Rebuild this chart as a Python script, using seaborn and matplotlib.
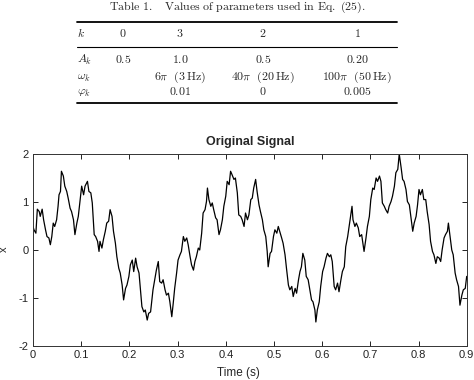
import numpy as np
import matplotlib
matplotlib.use("Agg")
import matplotlib.pyplot as plt
from matplotlib.lines import Line2D
import seaborn as sns

# signal
time = [0.000, 0.002, 0.006, 0.009, 0.013, 0.015, 0.019, 0.022, 0.026, 0.029, 0.033, 0.036, 0.039,
        0.042, 0.045, 0.049, 0.052, 0.054, 0.057, 0.059, 0.063, 0.066, 0.070, 0.073, 0.077, 0.080,
        0.084, 0.087, 0.091, 0.094, 0.098, 0.101, 0.105, 0.108, 0.113, 0.116, 0.120, 0.123, 0.127,
        0.130, 0.134, 0.137, 0.139, 0.143, 0.146, 0.150, 0.153, 0.157, 0.160, 0.164, 0.167, 0.171,
        0.174, 0.178, 0.181, 0.185, 0.188, 0.192, 0.195, 0.199, 0.202, 0.206, 0.209, 0.213, 0.216,
        0.220, 0.223, 0.226, 0.230, 0.233, 0.237, 0.240, 0.244,
        0.249, 0.256, 0.260, 0.263, 0.267, 0.270, 0.274, 0.277, 0.281, 0.284, 0.288, 0.291, 0.294,
        0.298, 0.301, 0.305, 0.308, 0.312, 0.315, 0.319, 0.322, 0.326, 0.329, 0.333, 0.336, 0.339,
        0.343, 0.346, 0.350, 0.353, 0.357, 0.360, 0.362, 0.365, 0.369, 0.372, 0.375, 0.379, 0.382,
        0.386, 0.389, 0.393, 0.396, 0.400, 0.403, 0.407, 0.410, 0.413, 0.417, 0.420, 0.424, 0.427,
        0.431, 0.434, 0.438, 0.441, 0.445, 0.448, 0.452, 0.455, 0.458, 0.462, 0.465, 0.469, 0.472,
        0.476, 0.479, 0.483, 0.486, 0.488, 0.492, 0.495, 0.499, 0.502, 0.506, 0.509, 0.512, 0.516,
        0.519, 0.523, 0.526, 0.530, 0.533, 0.537, 0.540, 0.544, 0.547, 0.551, 0.554, 0.557,
        0.560, 0.564, 0.567, 0.571, 0.574, 0.578, 0.581, 0.585, 0.587, 0.590, 0.594, 0.597, 0.601,
        0.604, 0.608, 0.611, 0.615, 0.618, 0.621, 0.625, 0.628, 0.632, 0.635, 0.639, 0.642, 0.646,
        0.649, 0.653, 0.656, 0.660, 0.662, 0.664, 0.668, 0.671, 0.675, 0.678, 0.682, 0.685, 0.687,
        0.691, 0.694, 0.698, 0.701, 0.705, 0.708, 0.712, 0.715, 0.719, 0.722, 0.725, 0.729, 0.732,
        0.736, 0.739, 0.743, 0.746, 0.750, 0.753, 0.757, 0.760, 0.764, 0.767, 0.770, 0.774, 0.777,
        0.781, 0.784, 0.788, 0.791, 0.795, 0.798, 0.801, 0.804, 0.808, 0.811, 0.815, 0.818, 0.822,
        0.825, 0.829, 0.832, 0.836, 0.839, 0.843, 0.846, 0.849, 0.853, 0.856, 0.860, 0.862, 0.865,
        0.869, 0.872, 0.876, 0.879, 0.883, 0.886, 0.890, 0.893, 0.897, 0.900]
signal = [0.48, 0.41, 0.34, 0.84, 0.79, 0.69, 0.84, 0.62, 0.41, 0.27, 0.24, 0.10, 0.27,
          0.55, 0.48, 0.62, 0.90, 1.14, 1.21, 1.63, 1.53, 1.32, 1.21, 1.07, 0.86, 0.79,
          0.62, 0.31, 0.55, 0.69, 1.04, 1.32, 1.14, 1.32, 1.42, 1.21, 1.18, 0.97, 0.31,
          0.27, 0.17, -0.04, 0.17, 0.03, 0.20, 0.38, 0.55, 0.59, 0.83, 0.69, 0.38, 0.13,
          -0.15, -0.39, -0.49, -0.74, -1.05, -0.81, -0.74, -0.56, -0.32, -0.22, -0.46, -0.18, -0.36,
          -0.49, -0.84, -1.19, -1.30, -1.26, -1.47, -1.33, -1.30,
          -0.84, -0.43, -0.25, -0.67, -0.70, -0.63, -0.84, -0.95, -0.91, -1.09, -1.40, -1.12, -0.81,
          -0.49, -0.22, -0.11, -0.04, 0.27, 0.17, 0.24, 0.10, -0.15, -0.32, -0.43, -0.25, -0.15,
          0.03, -0.01, 0.34, 0.76, 0.83, 1.00, 1.28, 1.04, 0.90, 0.97, 0.83, 0.66, 0.62,
          0.31, 0.41, 0.62, 0.90, 1.11, 1.42, 1.35, 1.63, 1.56, 1.46, 1.49, 1.18, 0.72,
          0.69, 0.62, 0.48, 0.76, 0.62, 0.72, 1.04, 1.07, 1.28, 1.46, 1.21, 0.93, 0.79,
          0.62, 0.41, 0.27, -0.04, -0.36, -0.08, -0.04, 0.27, 0.41, 0.34, 0.48, 0.38, 0.24,
          0.13, -0.11, -0.39, -0.74, -0.84, -0.77, -0.98, -0.81, -0.91, -0.63, -0.46, -0.36,
          -0.08, -0.22, -0.56, -0.63, -0.81, -1.05, -1.09, -1.26, -1.51, -1.26, -1.09, -0.77, -0.46,
          -0.36, -0.18, -0.08, -0.15, -0.11, -0.25, -0.77, -0.84, -0.70, -0.88, -0.63, -0.46, -0.36,
          0.06, 0.27, 0.48, 0.76, 0.90, 0.62, 0.48, 0.55, 0.45, 0.27, 0.31, 0.10, -0.04,
          0.24, 0.48, 0.69, 1.04, 1.28, 1.25, 1.49, 1.42, 1.53, 1.42, 0.97, 0.90, 0.83,
          0.76, 0.90, 1.00, 1.11, 1.32, 1.60, 1.67, 1.99, 1.70, 1.46, 1.42, 1.25, 1.00,
          0.93, 0.69, 0.38, 0.55, 0.69, 0.93, 1.25, 1.14, 1.25, 1.04, 1.04, 0.79, 0.52,
          0.17, -0.04, -0.11, -0.29, -0.15, -0.18, -0.25, -0.01, 0.24, 0.31, 0.38, 0.55, 0.31,
          -0.01, -0.11, -0.49, -0.63, -0.77, -1.16, -0.95, -0.84, -0.81, -0.56]

xticks = [0, 0.1, 0.2, 0.3, 0.4, 0.5, 0.6, 0.7, 0.8, 0.9]
xticklabels = ["0", "0.1", "0.2", "0.3", "0.4", "0.5", "0.6", "0.7", "0.8", "0.9"]
yticks = [-2, -1, 0, 1, 2]

# table contents
col_k = ["0", "3", "2", "1"]
row_A = ["0.5", "1.0", "0.5", "0.20"]
row_w = ["", r"6\pi\ \ (3\,\mathrm{Hz})", r"40\pi\ \ (20\,\mathrm{Hz})", r"100\pi\ \ (50\,\mathrm{Hz})"]
row_phi = ["", "0.01", "0", "0.005"]

sns.set_style("ticks", {"xtick.direction": "in", "ytick.direction": "in"})
plt.rcParams["font.family"] = ["Liberation Sans", "DejaVu Sans"]
plt.rcParams["mathtext.fontset"] = "cm"
plt.rcParams["axes.unicode_minus"] = False

W, H = 474, 380
fig = plt.figure(figsize=(W / 100, H / 100), dpi=100)
fig.patch.set_facecolor("white")

def fx(px):
    return px / W

def fy(py):
    return 1 - py / H

# ---- table ----
tsize = 8.6
fig.text(fx(237), fy(9.5), r"$\mathrm{Table\ 1.\quad Values\ of\ parameters\ used\ in\ Eq.\ (25).}$",
         ha="center", va="baseline", fontsize=tsize)
for py, lw in [(21.7, 1.3), (46.7, 0.8), (102.7, 1.3)]:
    fig.add_artist(Line2D([fx(77), fx(397)], [fy(py), fy(py)], transform=fig.transFigure,
                          color="black", lw=lw))

col_x = [123, 180, 263, 357]
rows = [(36.7, r"k", col_k), (63.0, r"A_k", row_A), (80.0, r"\omega_k", row_w), (94.6, r"\varphi_k", row_phi)]
for py, lab, vals in rows:
    fig.text(fx(77), fy(py), "$" + lab + "$", ha="left", va="baseline", fontsize=tsize)
    for cx, v in zip(col_x, vals):
        if v:
            fig.text(fx(cx), fy(py), "$" + v + "$", ha="center", va="baseline", fontsize=tsize)

# ---- plot ----
ax = fig.add_axes([fx(33), fy(345.5), fx(466.7) - fx(33), fy(153.5) - fy(345.5)])
sns.lineplot(x=time, y=signal, ax=ax, color="black", lw=0.9)
ax.set_xlim(0, 0.9)
ax.set_ylim(-2, 2)
ax.set_xticks(xticks)
ax.set_xticklabels(xticklabels)
ax.set_yticks(yticks)
ax.tick_params(axis="both", which="both", direction="in", length=3.5, width=0.7,
               top=True, right=True, labelsize=8, pad=3, colors="#222222")
for s in ax.spines.values():
    s.set_linewidth(0.7)
    s.set_color("#333333")
ax.set_title("Original Signal", fontsize=9, fontweight="bold", pad=6)
ax.set_xlabel("Time (s)", fontsize=8.5)
ax.xaxis.set_label_coords(0.473, -0.11)
ax.set_ylabel("x", fontsize=8, rotation=90)
ax.yaxis.set_label_coords(-0.055, 0.5)

fig.savefig("out.png", dpi=100, facecolor="white")
